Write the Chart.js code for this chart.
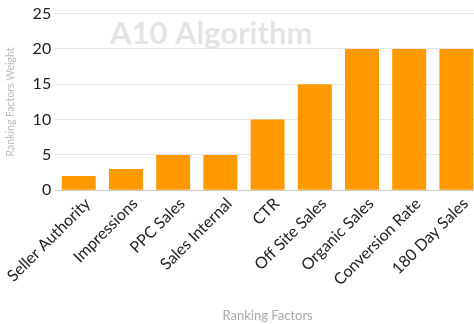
<!DOCTYPE html>
<html>
<head>
<meta charset="utf-8">
<script src="https://cdn.jsdelivr.net/npm/chart.js@4/dist/chart.umd.min.js"></script>
<style>
html,body{margin:0;padding:0;background:#fff;overflow:hidden;width:474px;height:324px;}
#wrap{position:absolute;left:0;top:0;width:482px;height:324px;}
</style>
</head>
<body>
<div id="wrap"><canvas id="c" width="482" height="324"></canvas></div>
<script>
const categories = ["Seller Authority","Impressions","PPC Sales","Sales Internal","CTR","Off Site Sales","Organic Sales","Conversion Rate","180 Day Sales"];
const weights = [2,3,5,5,10,15,20,20,20];
const chartTitle = "A10 Algorithm";
const xTitle = "Ranking Factors";
const yTitle = "Ranking Factors Weight";

const FONT = "Lato, 'Open Sans', sans-serif";

const titlePlugin = {
  id: 'innerTitle',
  beforeDatasetsDraw(chart) {
    const ctx = chart.ctx;
    const a = chart.chartArea;
    ctx.save();
    ctx.font = "bold 31px " + FONT;
    ctx.fillStyle = "#e4e4e4";
    ctx.textAlign = "center";
    ctx.textBaseline = "alphabetic";
    ctx.fillText(chartTitle, a.left + 156, a.top + 30);
    ctx.restore();
  }
};

new Chart(document.getElementById('c'), {
  type: 'bar',
  data: {
    labels: categories,
    datasets: [{
      data: weights,
      backgroundColor: '#ff9900',
      borderWidth: 0,
      barPercentage: 0.72,
      categoryPercentage: 1.0
    }]
  },
  options: {
    responsive: false,
    animation: false,
    layout: { padding: { top: 3, left: 4, right: 2, bottom: 0 } },
    plugins: { legend: { display: false }, tooltip: { enabled: false }, title: { display: false } },
    scales: {
      x: {
        afterFit(scale) { scale.paddingLeft = 0; scale.paddingRight = 0; },
        grid: { display: false, drawTicks: false },
        border: { display: true, color: '#cccccc', width: 1 },
        ticks: { color: '#222', font: { family: FONT, size: 16 }, maxRotation: 45, minRotation: 45, padding: 4, labelOffset: 9, autoSkip: false },
        title: { display: true, text: xTitle, color: '#aaaaaa', font: { family: FONT, size: 13 }, padding: { top: 15, bottom: 0 } }
      },
      y: {
        min: 0, max: 25,
        grid: { color: '#e6e6e6', drawTicks: false },
        border: { display: false },
        ticks: { stepSize: 5, color: '#222', font: { family: FONT, size: 16 }, padding: 4 },
        title: { display: true, text: yTitle, color: '#bbbbbb', font: { family: FONT, size: 10.5 }, padding: { top: 0, bottom: 12 } }
      }
    }
  },
  plugins: [titlePlugin]
});
</script>
</body>
</html>
